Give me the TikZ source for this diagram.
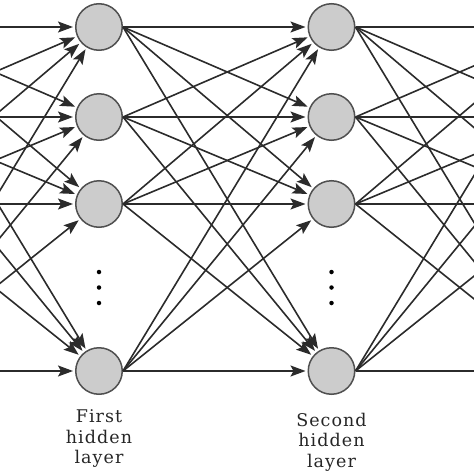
\documentclass[tikz,border=0pt]{standalone}
\usepackage{fontspec}
\newfontfamily\labelfont[LetterSpace=6]{DejaVu Serif}
\usetikzlibrary{arrows.meta}
\definecolor{edgecol}{HTML}{2B2B2B}
\definecolor{nodefill}{HTML}{CCCCCC}
\definecolor{nodeline}{HTML}{505050}
\tikzset{
  neuron/.style={circle, draw=nodeline, fill=nodefill, line width=1.5pt, minimum size=46.5pt, inner sep=0pt},
  link/.style={draw=edgecol, line width=1.6pt},
  arrowlink/.style={link, -{Stealth[length=15pt, width=11pt, inset=3pt]}, shorten >=2pt},
  vdot/.style={circle, fill=black, minimum size=4.5pt, inner sep=0pt},
  layerlabel/.style={align=center, inner sep=0pt, text=black!85, font={\labelfont\fontsize{17.5}{20.5}\selectfont}}
}
\begin{document}
\begin{tikzpicture}[x=1pt, y=-1pt]
\useasboundingbox (0,0) rectangle (474,474);
\clip (0,0) rectangle (474,474);
% input layer (outside frame): east points of input neurons
\foreach \i/\y in {1/27, 2/117, 3/204, 4/371} {
  \coordinate (in\i) at (-109.5,\y);
  \coordinate (out\i) at (564,\y);
}
% hidden layers
\foreach \i/\y in {1/27, 2/117, 3/204, 4/371} {
  \node[neuron] (a\i) at (99,\y) {};
  \node[neuron] (b\i) at (331.5,\y) {};
}
% connections
\foreach \i in {1,...,4} {
  \foreach \j in {1,...,4} {
    \draw[arrowlink] (in\i) -- (a\j);
    \draw[arrowlink] (a\i.east) -- (b\j);
    \draw[link] (b\i.east) -- (out\j);
  }
}
% dots
\foreach \k/\y in {1/272, 2/287.5, 3/303} {
  \node[vdot] (da\k) at (99,\y) {};
  \node[vdot] (db\k) at (331.5,\y) {};
}
% labels
\node[layerlabel, anchor=north] (la) at (99,409.5) {First\\hidden\\layer};
\node[layerlabel, anchor=north] (lb) at (331.5,412.5) {Second\\hidden\\layer};
\end{tikzpicture}
\end{document}
